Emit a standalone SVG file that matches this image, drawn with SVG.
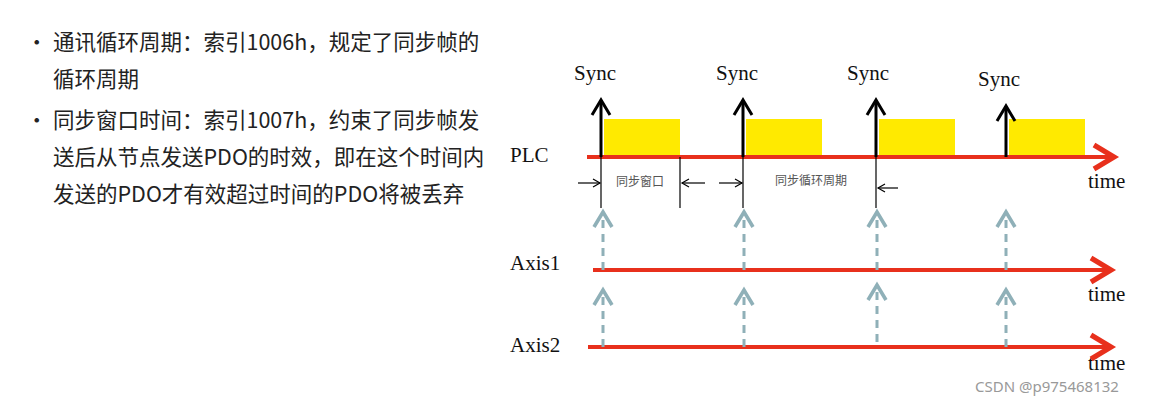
<svg xmlns="http://www.w3.org/2000/svg" width="1167" height="401" viewBox="0 0 1167 401">
<style>
.t{font-family:"Noto Sans CJK SC","Noto Sans",sans-serif;font-size:21.5px;fill:#222}
.s{font-family:"Liberation Serif","Noto Sans CJK SC",serif;font-size:21px;fill:#111}
.c{font-family:"Noto Sans CJK SC",sans-serif;font-size:12px;fill:#555}
.red{stroke:#e8301c;stroke-width:4;fill:none}
.blk{stroke:#000;stroke-width:3;fill:none}
.thin{stroke:#000;stroke-width:1.2;fill:none}
.dash{stroke:#8fb0b8;stroke-width:3;stroke-dasharray:8,6;fill:none}
.y{fill:#ffea00}
</style>
<defs>
<marker id="ra" markerWidth="8" markerHeight="8" refX="6" refY="4" orient="auto" markerUnits="strokeWidth"><path d="M1,1 L6,4 L1,7" stroke="#e8301c" stroke-width="1.3" fill="none"/></marker>
<marker id="ba" markerWidth="8" markerHeight="8" refX="6" refY="4" orient="auto" markerUnits="strokeWidth"><path d="M1,1 L6,4 L1,7" stroke="#000" stroke-width="1" fill="none"/></marker>
<marker id="ga" markerWidth="8" markerHeight="8" refX="6" refY="4" orient="auto" markerUnits="strokeWidth"><path d="M1,1 L6,4 L1,7" stroke="#8fb0b8" stroke-width="1.2" fill="none"/></marker>
<marker id="ta" markerWidth="10" markerHeight="10" refX="8" refY="5" orient="auto" markerUnits="userSpaceOnUse"><path d="M1,1 L8,5 L1,9" stroke="#000" stroke-width="1.2" fill="none"/></marker>
</defs>
<g id="text">
<text class="t" x="26" y="50">•</text><text class="t" x="53" y="50">通讯循环周期：索引1006h，规定了同步帧的</text>
<text class="t" x="53" y="87">循环周期</text>
<text class="t" x="26" y="128">•</text><text class="t" x="53" y="128">同步窗口时间：索引1007h，约束了同步帧发</text>
<text class="t" x="53" y="165">送后从节点发送PDO的时效，即在这个时间内</text>
<text class="t" x="53" y="202">发送的PDO才有效超过时间的PDO将被丢弃</text>
</g>
<g id="windows">
<rect class="y" x="604" y="119" width="76" height="38"/>
<rect class="y" x="746" y="119" width="76" height="38"/>
<rect class="y" x="879" y="119" width="76" height="38"/>
<rect class="y" x="1009" y="119" width="76" height="38"/>
</g>
<g id="labels">
<text class="s" x="510" y="162">PLC</text>
<text class="s" x="510" y="270">Axis1</text>
<text class="s" x="510" y="352">Axis2</text>
<text class="s" x="574" y="80">Sync</text>
<text class="s" x="716" y="80">Sync</text>
<text class="s" x="847" y="80">Sync</text>
<text class="s" x="978" y="86">Sync</text>
<text class="s" x="1088" y="188">time</text>
<text class="s" x="1088" y="301">time</text>
<text class="s" x="1088" y="370">time</text>
<text class="c" x="616" y="186">同步窗口</text>
<text class="c" x="775" y="185">同步循环周期</text>
<text x="975" y="392" style="font-family:'Noto Sans',sans-serif;font-size:15px;fill:#999">CSDN @p975468132</text>
</g>
<g id="connectors">
<line class="red" x1="587" y1="157" x2="1114" y2="157" marker-end="url(#ra)"/>
<line class="red" x1="593" y1="270" x2="1111" y2="270" marker-end="url(#ra)"/>
<line class="red" x1="588" y1="347" x2="1111" y2="347" marker-end="url(#ra)"/>
<line class="blk" x1="601" y1="157" x2="601" y2="100" marker-end="url(#ba)"/>
<line class="blk" x1="743" y1="157" x2="743" y2="100" marker-end="url(#ba)"/>
<line class="blk" x1="876" y1="157" x2="876" y2="100" marker-end="url(#ba)"/>
<line class="blk" x1="1006" y1="157" x2="1006" y2="106" marker-end="url(#ba)"/>
<line class="thin" x1="601" y1="157" x2="601" y2="208"/>
<line class="thin" x1="680" y1="157" x2="680" y2="208"/>
<line class="thin" x1="743" y1="157" x2="743" y2="208"/>
<line class="thin" x1="876" y1="157" x2="876" y2="208"/>
<line class="thin" x1="578" y1="183" x2="600" y2="183" marker-end="url(#ta)"/>
<line class="thin" x1="705" y1="183" x2="682" y2="183" marker-end="url(#ta)"/>
<line class="thin" x1="719" y1="183" x2="742" y2="183" marker-end="url(#ta)"/>
<line class="thin" x1="898" y1="188" x2="878" y2="188" marker-end="url(#ta)"/>
<line class="dash" x1="603" y1="270" x2="603" y2="212" marker-end="url(#ga)"/>
<line class="dash" x1="744" y1="270" x2="744" y2="212" marker-end="url(#ga)"/>
<line class="dash" x1="877" y1="270" x2="877" y2="212" marker-end="url(#ga)"/>
<line class="dash" x1="1006" y1="270" x2="1006" y2="212" marker-end="url(#ga)"/>
<line class="dash" x1="603" y1="347" x2="603" y2="290" marker-end="url(#ga)"/>
<line class="dash" x1="744" y1="347" x2="744" y2="290" marker-end="url(#ga)"/>
<line class="dash" x1="877" y1="342" x2="877" y2="285" marker-end="url(#ga)"/>
<line class="dash" x1="1006" y1="347" x2="1006" y2="290" marker-end="url(#ga)"/>
</g>
</svg>
